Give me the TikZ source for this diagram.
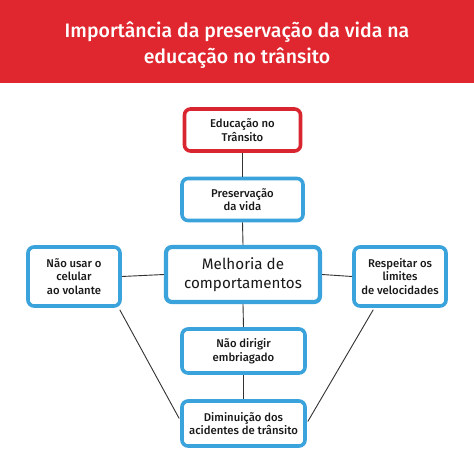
\documentclass[tikz,border=0pt]{standalone}
\usepackage{fontspec}
\setmainfont{Fira Sans}[BoldFont={Fira Sans Medium}]
\definecolor{hdr}{RGB}{224,38,46}
\definecolor{bx}{RGB}{59,163,220}
\definecolor{rbx}{RGB}{217,37,47}
\definecolor{ln}{RGB}{50,50,50}
\definecolor{txt}{RGB}{25,25,25}
\begin{document}
\begin{tikzpicture}[x=1pt,y=-1pt,
  boxs/.style={draw=bx,line width=3.6pt,rounded corners=6pt,fill=white,align=center,inner sep=0pt,text=txt,font=\fontsize{11.3}{13.5}\selectfont\bfseries},
  conn/.style={draw=ln,line width=0.9pt}]
\useasboundingbox (0,0) rectangle (474,471);
\fill[white] (0,0) rectangle (474,471);
\fill[hdr] (0,0) rectangle (474,83);
\node[text=white,align=center,font=\fontsize{19.5}{26}\selectfont\bfseries] (title) at (237,45) {Importância da preservação da vida na\\educação no trânsito};
% nodes
\node[boxs,draw=rbx,minimum width=116pt,minimum height=42pt] (edu) at (242.5,130) {Educação no\\Trânsito};
\node[boxs,minimum width=121pt,minimum height=42pt] (pres) at (242.5,199.5) {Preservação\\da vida};
\node[boxs,line width=4.2pt,minimum width=154pt,minimum height=55pt,font=\fontsize{15.2}{19}\selectfont] (mel) at (243,274.5) {Melhoria de\\comportamentos};
\node[boxs,minimum width=92pt,minimum height=59pt] (cel) at (74,276.5) {Não usar o\\celular\\ao volante};
\node[boxs,minimum width=92pt,minimum height=59pt] (vel) at (400,276.5) {Respeitar os\\limites\\de velocidades};
\node[boxs,minimum width=123pt,minimum height=44pt] (emb) at (243.5,351) {Não dirigir\\embriagado};
\node[boxs,minimum width=123pt,minimum height=45pt] (dim) at (243.5,423.5) {Diminuição dos\\acidentes de trânsito};
% connectors
\draw[conn] (edu.south) -- (pres.north);
\draw[conn] (pres.south) -- (mel.north);
\draw[conn] (mel.south) -- (emb.north);
\draw[conn] (emb.south) -- (dim.north);
\draw[conn] (cel.east) -- (mel.west);
\draw[conn] (mel.east) -- (vel.west);
\draw[conn] ([shift={(-2,2)}]cel.south east) -- ([shift={(-1,-5)}]dim.west);
\draw[conn] ([shift={(21,2)}]vel.south west) -- ([shift={(1,-2)}]dim.east);
\end{tikzpicture}
\end{document}
